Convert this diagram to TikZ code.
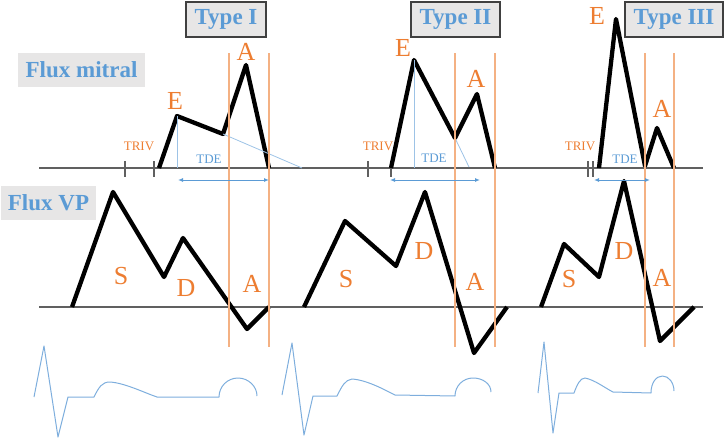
\documentclass[tikz,border=0pt]{standalone}
\usepackage{fontspec}
\setmainfont{Liberation Serif}
\usetikzlibrary{arrows.meta}
\definecolor{ored}{HTML}{ED7D31}
\definecolor{oline}{HTML}{F4B183}
\definecolor{bluet}{HTML}{5B9BD5}
\definecolor{bline}{HTML}{9DC3E6}
\definecolor{ecg}{HTML}{7EAEDD}
\definecolor{boxfill}{HTML}{E7E6E6}
\definecolor{boxdraw}{HTML}{404040}
\definecolor{basegray}{HTML}{606060}
\begin{document}
\begin{tikzpicture}[x=1pt,y=-1pt,
  wave/.style={draw=black, line width=4.3pt, line join=round},
  axisline/.style={draw=basegray, line width=1.2pt},
  tickmark/.style={draw=basegray, line width=1.2pt},
  vline/.style={draw=oline, line width=1.2pt},
  guide/.style={draw=bline, line width=0.8pt},
  tdearrow/.style={draw=bluet, line width=1pt, {Latex[length=5pt,width=4pt]}-{Latex[length=5pt,width=4pt]}},
  ecgline/.style={draw=ecg, line width=1pt, line join=round},
  typebox/.style={draw=boxdraw, line width=1.2pt, fill=boxfill, text=bluet, font=\fontsize{23}{23}\selectfont\bfseries, inner sep=0pt, minimum height=35pt},
  fluxbox/.style={fill=boxfill, text=bluet, font=\fontsize{23}{23}\selectfont\bfseries, inner sep=0pt, minimum height=34pt},
  peaklabel/.style={text=ored, font=\fontsize{26}{26}\selectfont, inner sep=0pt},
  trivlabel/.style={text=ored, font=\fontsize{13}{13}\selectfont, inner sep=0pt},
  tdelabel/.style={text=bluet, font=\fontsize{13}{13}\selectfont, inner sep=0pt},
]
\useasboundingbox (0,0) rectangle (724,439);

% title boxes
\node[typebox, minimum width=80pt] (t1) at (226,19.5) {Type I};
\node[typebox, minimum width=89pt] (t2) at (455.5,19.5) {Type II};
\node[typebox, minimum width=98pt] (t3) at (674,19.5) {Type III};
\node[fluxbox, minimum width=127pt] (fm) at (81.5,70) {Flux mitral};
\node[fluxbox, minimum width=95pt] (fv) at (48.5,203) {Flux VP};

% baselines
\draw[axisline] (39,168) -- (703,168);
\draw[axisline] (39,307) -- (703,307);

% ticks
\foreach \x in {125,154,368,391,588,593}
  \draw[tickmark] (\x,161) -- (\x,177);

% mitral waves
\draw[wave] (159,168) -- (177,116) -- (223,134) -- (246,65) -- (269,168);
\draw[wave] (391,168) -- (414,60) -- (455,138) -- (477,94) -- (495,168);
\draw[wave] (599,168) -- (616,19) -- (645,166) -- (657,128) -- (674,168);

% VP waves
\draw[wave] (72,307) -- (113,192) -- (164,277) -- (183,238) -- (247,329) -- (269,307);
\draw[wave] (304,307) -- (345,221) -- (396,266) -- (425,192) -- (474,353) -- (507,307);
\draw[wave] (541,307) -- (564,244) -- (599,277) -- (624,181) -- (660,341) -- (694,307);

% guides
\draw[guide] (177,116) -- (177,168);
\draw[guide] (223,134) -- (302,168);
\draw[guide] (414,60) -- (414,168);
\draw[guide] (455,138) -- (469,167);

% orange verticals
\foreach \x in {229,269,455,495,645,674}
  \draw[vline] (\x,53) -- (\x,347);

% TDE arrows
\coordinate (a1) at (178,180); \coordinate (b1) at (269,180);
\coordinate (a2) at (390,180); \coordinate (b2) at (480,180);
\coordinate (a3) at (594,180); \coordinate (b3) at (650,180);
\draw[tdearrow] (a1) -- (b1);
\draw[tdearrow] (a2) -- (b2);
\draw[tdearrow] (a3) -- (b3);

% ECG
\draw[ecgline] (34,397) -- (44,346) -- (58,437) -- (68,397) -- (94,397)
  .. controls (99,387) and (102,382) .. (110,382)
  .. controls (125,383) and (145,393) .. (157,397) -- (219,397)
  .. controls (219,386.5) and (227.5,378) .. (238,378)
  .. controls (248.5,378) and (257,386.5) .. (257,396);
\draw[ecgline] (282,395) -- (292,343) -- (304,435) -- (313,396) -- (337,396)
  .. controls (342,386) and (345,380) .. (352,379)
  .. controls (367,380) and (385,390) .. (395,395) -- (455,396)
  .. controls (455,386) and (463,378) .. (473,378)
  .. controls (483,378) and (491,384) .. (491,392);
\draw[ecgline] (538,393) -- (544,342) -- (553,433) -- (559,393) -- (574,393)
  .. controls (577,385) and (580,378) .. (585,378)
  .. controls (595,380) and (605,388) .. (613,392) -- (651,393)
  .. controls (651,383) and (656,376) .. (662.5,376)
  .. controls (669,376) and (674,383) .. (674,391);

% mitral labels
\node[peaklabel] (e1) at (175,101) {E};
\node[peaklabel] (m1) at (246,52) {A};
\node[peaklabel] (e2) at (403,48) {E};
\node[peaklabel] (m2) at (476,79) {A};
\node[peaklabel] (e3) at (597,16) {E};
\node[peaklabel] (m3) at (662,109) {A};
\node[trivlabel] (r1) at (139,146) {TRIV};
\node[trivlabel] (r2) at (378,146) {TRIV};
\node[trivlabel] (r3) at (580,146) {TRIV};
\node[tdelabel] (d1) at (209,159) {TDE};
\node[tdelabel] (d2) at (434,158) {TDE};
\node[tdelabel] (d3) at (625,159) {TDE};

% VP labels
\node[peaklabel] (s1) at (121,276) {S};
\node[peaklabel] (dd1) at (186,288) {D};
\node[peaklabel] (v1) at (252,284) {A};
\node[peaklabel] (s2) at (346,279) {S};
\node[peaklabel] (dd2) at (424,251) {D};
\node[peaklabel] (v2) at (475,282) {A};
\node[peaklabel] (s3) at (569,279) {S};
\node[peaklabel] (dd3) at (624,251) {D};
\node[peaklabel] (v3) at (662,278) {A};
\end{tikzpicture}
\end{document}
